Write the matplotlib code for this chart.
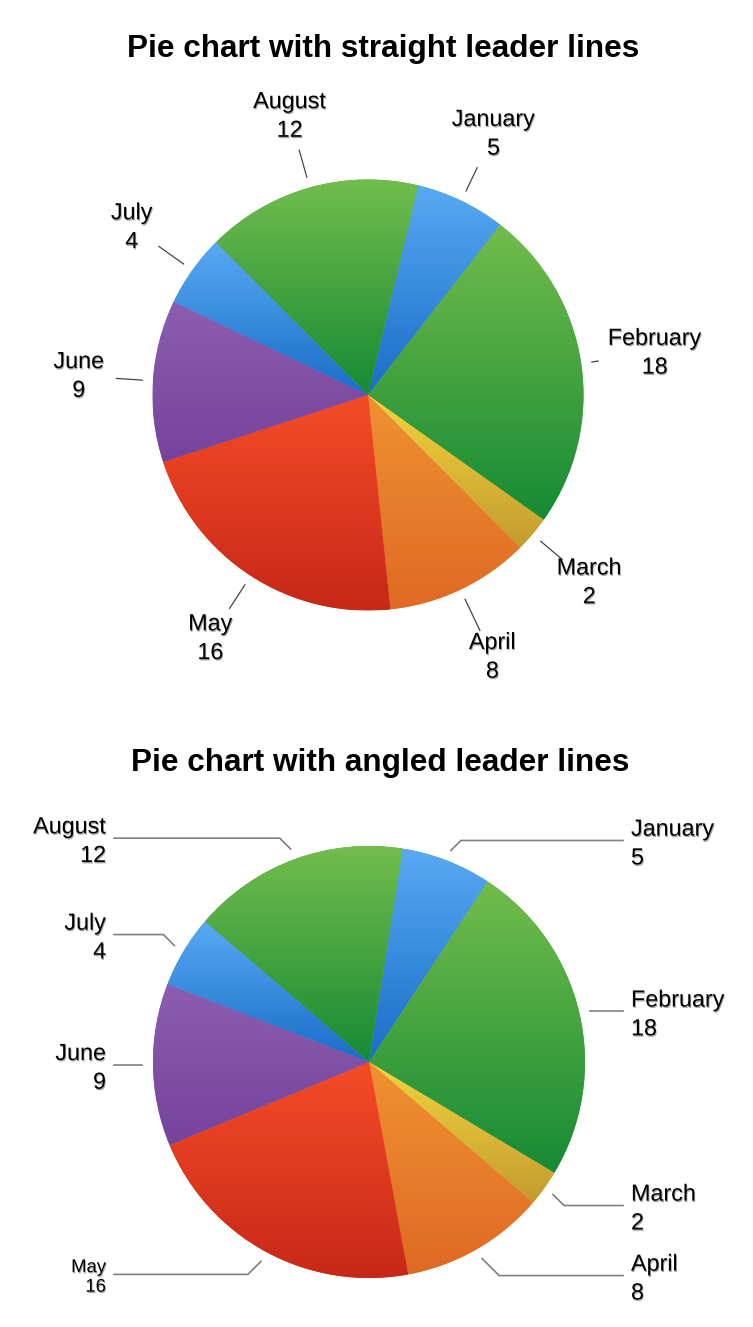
import numpy as np
import matplotlib.pyplot as plt
import matplotlib.patheffects as pe
from matplotlib.colors import to_rgb

plt.rcParams['font.family'] = ['Liberation Sans', 'DejaVu Sans']

# data
months = ['January', 'February', 'March', 'April', 'May', 'June', 'July', 'August']
values = [5, 18, 2, 8, 16, 9, 4, 12]

# light (top) and dark (bottom) shade of each wedge
light_colors = ['#58aaf3', '#72bd4c', '#f2d53c', '#ef9232', '#f54c27', '#8b5eb1', '#58aaf3', '#72bd4c']
dark_colors = ['#1a6cc8', '#168a34', '#c49a30', '#df6a24', '#c62818', '#76439a', '#1a6cc8', '#168a34']

titles = ['Pie chart with straight leader lines', 'Pie chart with angled leader lines']

# layout (pixels, y measured from the top)
W, H = 753, 1327
label_size = 16.8
title_size = 22.7
straight_line_end = [1.17, 1.08, 1.18, 1.21, 1.18, 1.17, 1.19, 1.18]
angled_elbow = [10, 0, 11, 17, 13, 0, 11, 11]
angled_size = [16.8, 16.8, 16.8, 16.8, 13.3, 16.8, 16.8, 16.8]

shadow = [pe.withSimplePatchShadow(offset=(0.6, -1.0), shadow_rgbFace='black', alpha=0.35)]

fig = plt.figure(figsize=(W / 100, H / 100), dpi=100)
ax = fig.add_axes([0, 0, 1, 1])


def gradient_pie(cx, cy, radius, start):
    mids = [tuple((np.array(to_rgb(a)) + np.array(to_rgb(b))) / 2) for a, b in zip(light_colors, dark_colors)]
    wedges, _ = ax.pie(values, colors=mids, startangle=start, counterclock=False,
                       center=(cx, H - cy), radius=radius, wedgeprops=dict(linewidth=0))
    ramp = np.linspace(0, 1, 256)[:, None, None]
    for w, c0, c1 in zip(wedges, light_colors, dark_colors):
        ext = w.get_path().get_extents()
        img = (1 - ramp) * np.array(to_rgb(c0)) + ramp * np.array(to_rgb(c1))
        im = ax.imshow(img, extent=(ext.x0, ext.x1, ext.y0, ext.y1), origin='upper',
                       aspect='auto', interpolation='bilinear', zorder=w.get_zorder() + 0.1)
        im.set_clip_path(w)
    return wedges


# top chart: straight leader lines
cx, cy, r = 368, 395, 215.5
wedges = gradient_pie(cx, cy, r, 76.5)
for w, name, v, k in zip(wedges, months, values, straight_line_end):
    a = np.deg2rad((w.theta1 + w.theta2) / 2)
    ux, uy = np.cos(a), np.sin(a)
    ax.plot([cx + 1.05 * r * ux, cx + k * r * ux], [H - cy + 1.05 * r * uy, H - cy + k * r * uy],
            color='#444444', lw=0.9, zorder=5)
    ax.text(cx + 1.345 * r * ux, H - cy + 1.345 * r * uy, f'{name}\n{v}', ha='center', va='center',
            fontsize=label_size, linespacing=1.32, path_effects=shadow, zorder=6)
ax.text(383, H - 56.5, titles[0], ha='center', va='baseline', fontsize=title_size, fontweight='bold')

# bottom chart: angled leader lines
cx, cy, r = 369, 1062, 216
wedges = gradient_pie(cx, cy, r, 81)
for w, name, v, d, fs in zip(wedges, months, values, angled_elbow, angled_size):
    a = np.deg2rad((w.theta1 + w.theta2) / 2)
    ux, uy = np.cos(a), np.sin(a)
    sx, sy = np.sign(ux), np.sign(uy)
    x0, y0 = cx + 1.05 * r * ux, H - cy + 1.05 * r * uy
    x1, y1 = x0 + d * sx, y0 + d * sy
    x2 = 114 if sx < 0 else 623
    ax.plot([x0, x1, x2], [y0, y1, y1], color='#808080', lw=1.2, zorder=5)
    ax.text(106 if sx < 0 else 631, y1 - 3, f'{name}\n{v}', ha='right' if sx < 0 else 'left',
            va='center', fontsize=fs, linespacing=1.32 if fs > 15 else 1.2,
            path_effects=shadow, zorder=6)
ax.text(380, H - 771, titles[1], ha='center', va='baseline', fontsize=title_size, fontweight='bold')

ax.set_xlim(0, W)
ax.set_ylim(0, H)
ax.set_aspect('auto')
ax.axis('off')

fig.savefig('out.png', dpi=100, facecolor='white')
